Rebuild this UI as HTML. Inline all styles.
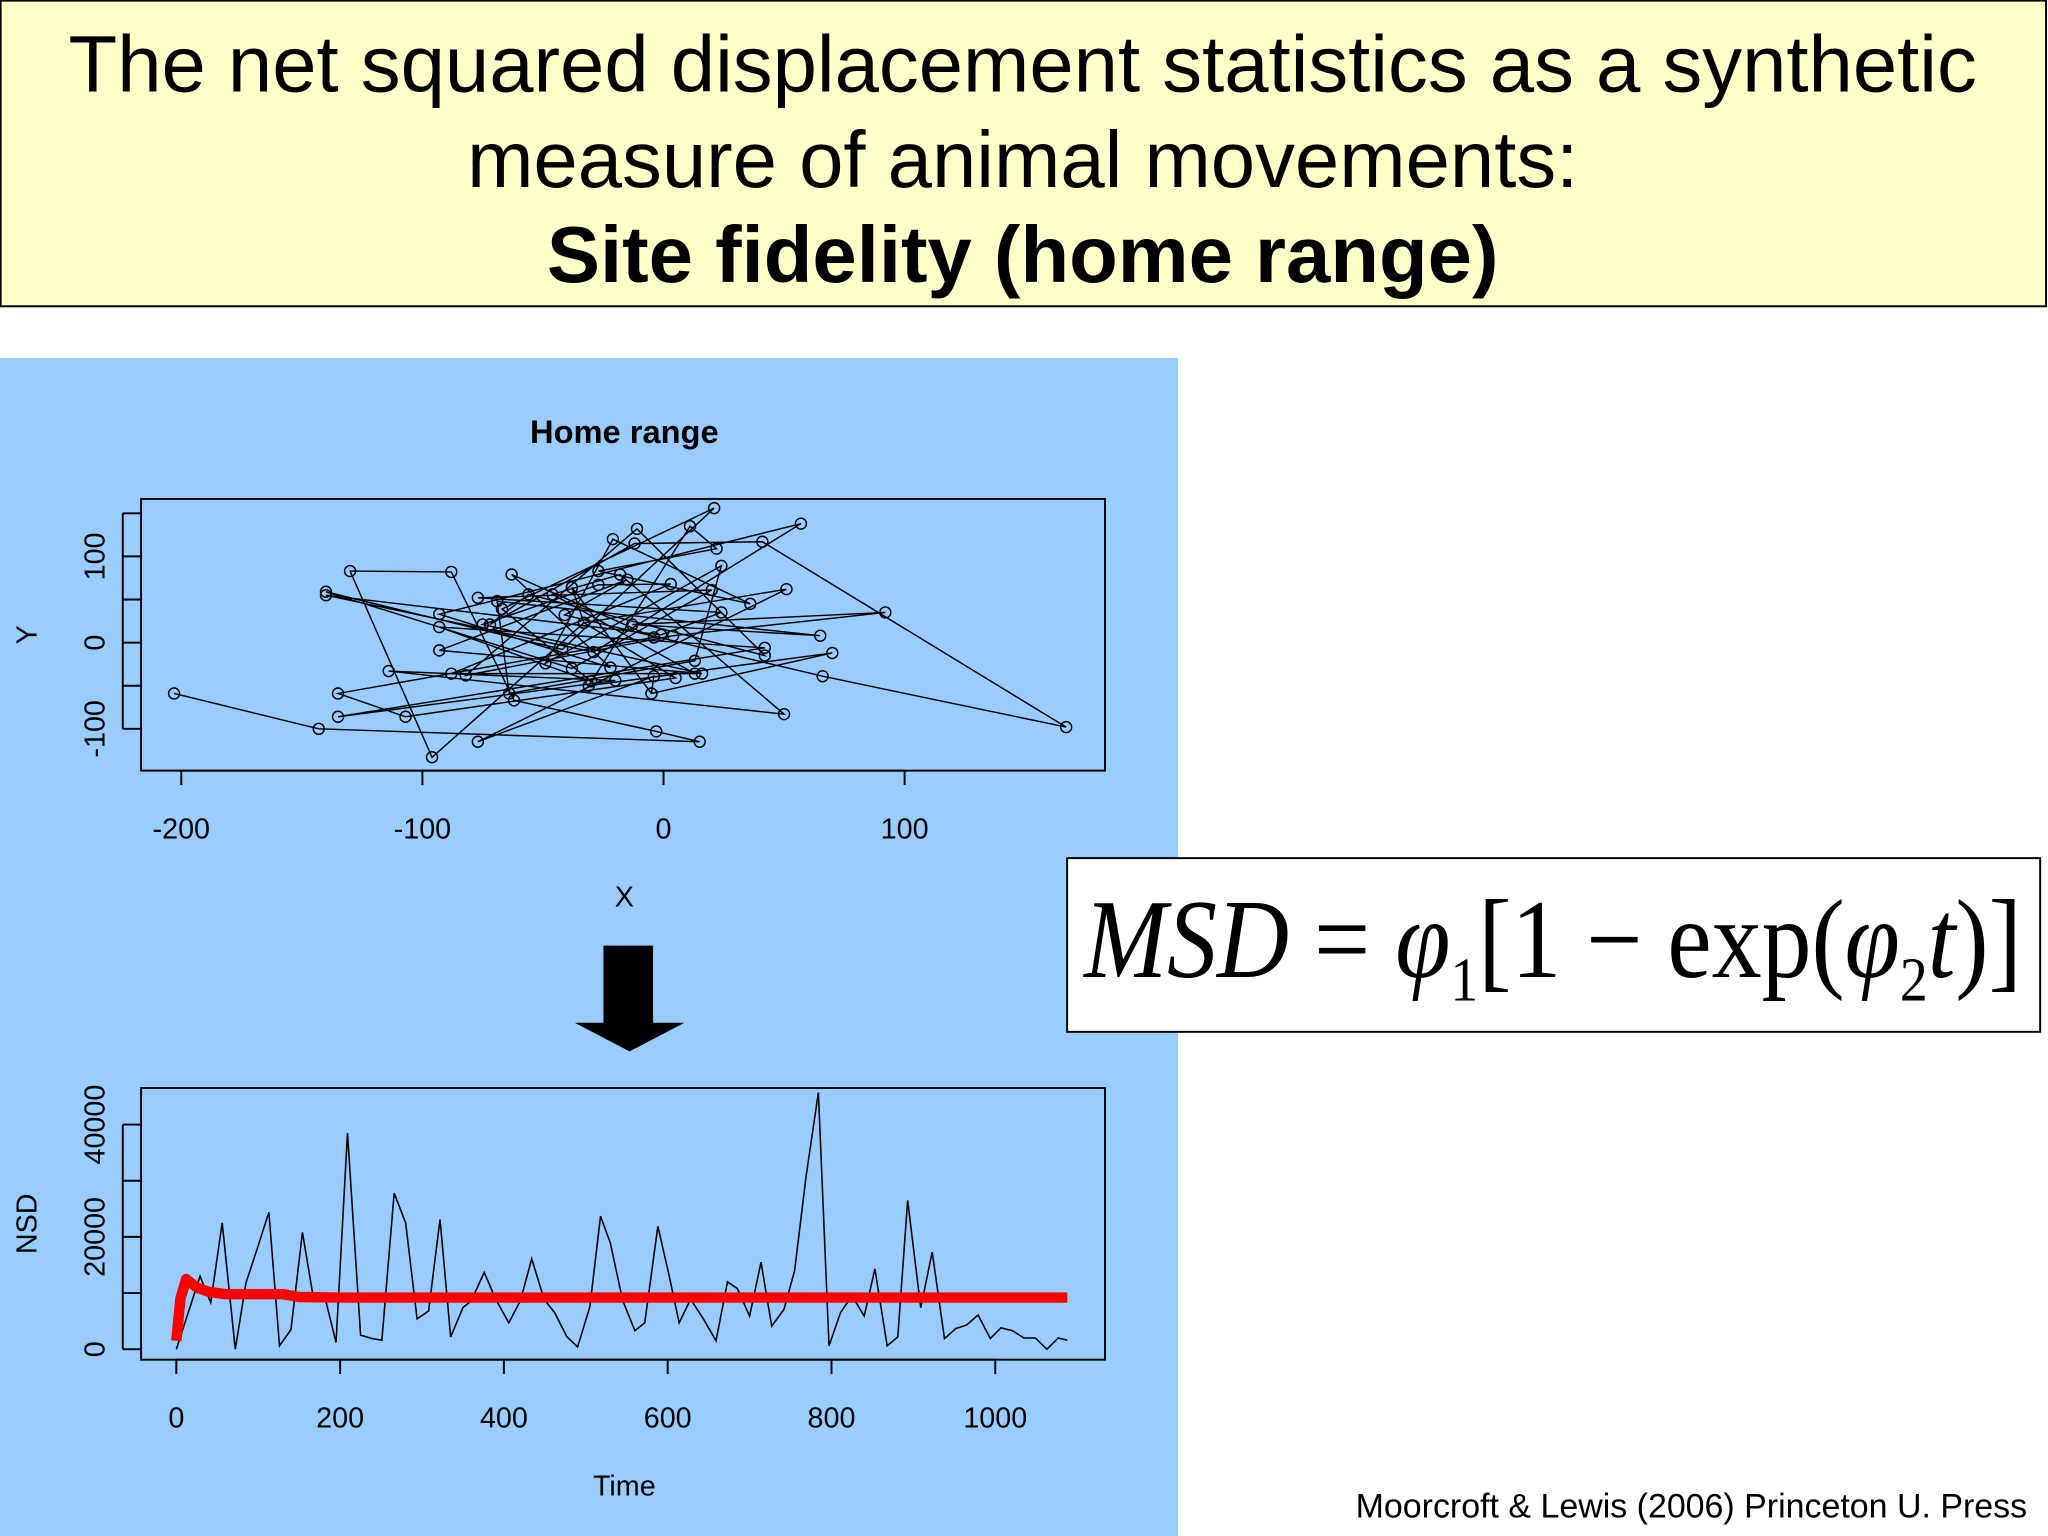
<!DOCTYPE html>
<html><head><meta charset="utf-8"><style>
html,body{margin:0;padding:0;background:#fff}
svg{display:block}
text{font-family:"Liberation Sans",sans-serif}
</style></head><body>
<svg id="s" width="2048" height="1536" viewBox="0 0 1568 1176" xmlns="http://www.w3.org/2000/svg">
<rect x="0.5" y="0.5" width="1566" height="234" fill="#FFFFC8" stroke="#000" stroke-width="1.5"/>
<text x="783" y="70" font-size="61" text-anchor="middle">The net squared displacement statistics as a synthetic</text>
<text x="783" y="143" font-size="61" text-anchor="middle">measure of animal movements:</text>
<text x="783" y="216" font-size="61" font-weight="bold" text-anchor="middle">Site fidelity (home range)</text>
<rect x="0" y="274" width="902" height="902" fill="#99CCFF"/>
<text x="478" y="339" font-size="25" font-weight="bold" text-anchor="middle">Home range</text>
<g id="topg"></g>
<g>
<rect x="462" y="724" width="38" height="60" fill="#000"/>
<polygon points="440,783 524,783 482,805" fill="#000"/>
</g>
<g id="botg"></g>
<rect x="817" y="657" width="745" height="133" fill="#fff" stroke="#000" stroke-width="1.5"/>
<text x="830" y="748" font-size="86" style="font-family:'Liberation Serif',serif" textLength="718" lengthAdjust="spacingAndGlyphs"><tspan font-style="italic">MSD</tspan> = <tspan font-style="italic">φ</tspan><tspan font-size="48" dy="18">1</tspan><tspan dy="-18">[1 − exp(</tspan><tspan font-style="italic">φ</tspan><tspan font-size="48" dy="18">2</tspan><tspan dy="-18" font-style="italic">t</tspan>)]</text>
<text x="1552" y="1162" font-size="26" text-anchor="end">Moorcroft &amp; Lewis (2006) Princeton U. Press</text>
</svg>
<script>
const xs=[-203,-143,15,-3,-62,-88,-130,-96,-33,5,-107,-135,-4,-63,-22,-93,57,-29,-140,-1,24,-77,20,-38,-140,-42,21,-67,-30,-93,42,-135,-20,-114,50,-18,-46,13,-88,3,-27,-75,16,-93,-15,-41,66,167,41,-12,-72,-56,42,-11,-82,4,92,-13,65,-69,-64,13,24,-49,-21,36,-27,22,11,-31,70,-5,-4,-77,51,-33,-38,-5];
const ys=[-59,-100,-115,-103,-67,82,83,-133,23,-41,-86,-59,6,79,-29,33,138,-11,55,9,35,52,61,-30,59,-8,156,39,-45,18,-6,-86,-44,-33,-83,79,56,-36,-36,68,67,21,-36,-9,73,32,-39,-98,117,115,21,56,-15,132,-38,8,35,21,8,48,-59,-21,89,-24,120,45,83,109,135,-50,-12,-59,-39,-115,62,23,64,-59];
const times=[0,29,42,56,72,85,99,113,126,140,154,168,181,195,209,225,239,251,266,280,294,308,322,335,350,360,376,390,406,420,434,449,462,477,490,505,518,530,545,560,572,588,601,614,628,644,659,673,685,700,714,727,742,755,769,784,797,811,825,840,853,868,881,893,909,923,938,952,965,979,994,1007,1021,1035,1049,1063,1077,1088];
const nsd=[0,13000,8300,22500,0,11800,18000,24400,600,3500,20800,8600,9500,1200,38500,2500,1900,1600,27800,22500,5400,6800,23100,2200,7400,8600,13700,8900,4700,8600,16100,8900,6500,2200,400,7600,23700,18900,8700,3300,4700,21900,13600,4700,8900,5300,1500,12000,10800,5900,15500,4100,7100,14000,30800,45700,600,6500,9500,5900,14300,600,2200,26500,7400,17300,1900,3700,4300,6100,1900,3800,3300,2000,2000,0,2000,1600];
const fitT=[0,5,12,25,40,60,100,130,150,200,1088];
const fitV=[1500,9000,12500,11000,10200,9800,9800,9800,9300,9200,9200];
const xTop=[-200,-100,0,100], yTopTicks=[-100,-50,0,50,100,150], yTopLab=[-100,0,100];
const tTicks=[0,200,400,600,800,1000], nTicks=[0,10000,20000,30000,40000], nLab=[0,20000,40000];
const NS='http://www.w3.org/2000/svg';
function mk(p,tag,a){const e=document.createElementNS(NS,tag);for(const k in a)e.setAttribute(k,a[k]);p.appendChild(e);return e;}
const gTop=document.getElementById('topg'), gBot=document.getElementById('botg');
const sx=v=>508+v*1.846, sy=v=>492-v*0.66;
const tx=v=>135+v*0.627, ny=v=>1033-v*0.0043;
function frame(g,x0,y0,x1,y1){const r=mk(g,'rect',{x:x0,y:y0,width:x1-x0,height:y1-y0,fill:'none',stroke:'#000','stroke-width':1.5});

}
frame(gTop,108,382,846,590);
const pl=mk(gTop,'polyline',{points:xs.map((x,i)=>sx(x)+','+sy(ys[i])).join(' '),fill:'none',stroke:'#000','stroke-width':1.1});


xs.forEach((x,i)=>{const c=mk(gTop,'circle',{cx:sx(x),cy:sy(ys[i]),r:4.2,fill:'none',stroke:'#000','stroke-width':1.1});

});
xTop.forEach(v=>{mk(gTop,'line',{x1:sx(v),x2:sx(v),y1:590,y2:601,stroke:'#000','stroke-width':1.5});
const t=mk(gTop,'text',{x:sx(v),y:642,'font-size':22,'text-anchor':'middle'});t.textContent=v;

});
mk(gTop,'line',{x1:sx(-200),x2:sx(100),y1:590,y2:590,stroke:'#000','stroke-width':1.5});
yTopTicks.forEach(v=>mk(gTop,'line',{x1:94,x2:108,y1:sy(v),y2:sy(v),stroke:'#000','stroke-width':1.5}));
mk(gTop,'line',{x1:94,x2:94,y1:sy(-100),y2:sy(150),stroke:'#000','stroke-width':1.5});
yTopLab.forEach(v=>{const t=mk(gTop,'text',{x:80,y:sy(v),'font-size':22,'text-anchor':'middle',transform:`rotate(-90 80 ${sy(v)})`});t.textContent=v;

});
let t1=mk(gTop,'text',{x:478,y:694,'font-size':22,'text-anchor':'middle'});t1.textContent='X';


let t2=mk(gTop,'text',{x:28,y:486,'font-size':22,'text-anchor':'middle',transform:'rotate(-90 28 486)'});t2.textContent='Y';



frame(gBot,108,833,846,1041);
const nl=mk(gBot,'polyline',{points:times.map((t,i)=>tx(t)+','+ny(nsd[i])).join(' '),fill:'none',stroke:'#000','stroke-width':1.2});


const fl=mk(gBot,'polyline',{points:fitT.map((t,i)=>tx(t)+','+ny(fitV[i])).join(' '),fill:'none',stroke:'#FF0000','stroke-width':8,'stroke-linejoin':'round'});


tTicks.forEach(v=>{mk(gBot,'line',{x1:tx(v),x2:tx(v),y1:1041,y2:1052,stroke:'#000','stroke-width':1.5});
const t=mk(gBot,'text',{x:tx(v),y:1093,'font-size':22,'text-anchor':'middle'});t.textContent=v;

});
mk(gBot,'line',{x1:tx(0),x2:tx(1000),y1:1041,y2:1041,stroke:'#000','stroke-width':1.5});
nTicks.forEach(v=>mk(gBot,'line',{x1:94,x2:108,y1:ny(v),y2:ny(v),stroke:'#000','stroke-width':1.5}));
mk(gBot,'line',{x1:94,x2:94,y1:ny(0),y2:ny(40000),stroke:'#000','stroke-width':1.5});
nLab.forEach(v=>{const t=mk(gBot,'text',{x:80,y:ny(v),'font-size':22,'text-anchor':'middle',transform:`rotate(-90 80 ${ny(v)})`});t.textContent=v;

});
let t3=mk(gBot,'text',{x:478,y:1145,'font-size':22,'text-anchor':'middle'});t3.textContent='Time';


let t4=mk(gBot,'text',{x:28,y:937,'font-size':22,'text-anchor':'middle',transform:'rotate(-90 28 937)'});t4.textContent='NSD';


</script>
</body></html>
